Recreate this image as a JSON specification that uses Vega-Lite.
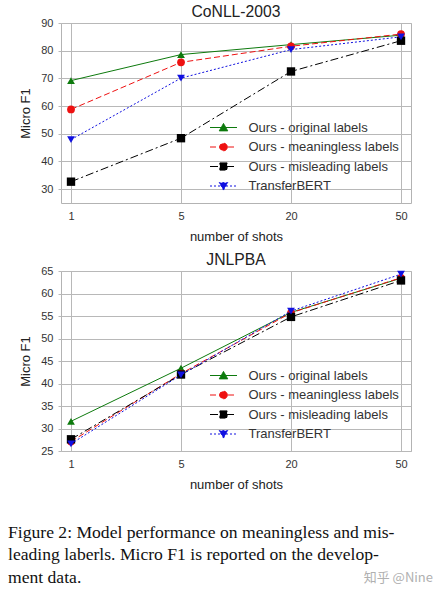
{
  "$schema": "https://vega.github.io/schema/vega-lite/v6.json",
  "padding": {"left": 8, "top": 3, "right": 0, "bottom": 0},
  "datasets": {
    "conll": [
      {"series": "Ours - original labels", "shots": "1", "f1": 69.2},
      {"series": "Ours - original labels", "shots": "5", "f1": 78.6},
      {"series": "Ours - original labels", "shots": "20", "f1": 82.2},
      {"series": "Ours - original labels", "shots": "50", "f1": 85.6},
      {"series": "Ours - meaningless labels", "shots": "1", "f1": 58.8},
      {"series": "Ours - meaningless labels", "shots": "5", "f1": 75.8},
      {"series": "Ours - meaningless labels", "shots": "20", "f1": 81.6},
      {"series": "Ours - meaningless labels", "shots": "50", "f1": 86.0},
      {"series": "Ours - misleading labels", "shots": "1", "f1": 32.7},
      {"series": "Ours - misleading labels", "shots": "5", "f1": 48.4},
      {"series": "Ours - misleading labels", "shots": "20", "f1": 72.5},
      {"series": "Ours - misleading labels", "shots": "50", "f1": 83.6},
      {"series": "TransferBERT", "shots": "1", "f1": 47.9},
      {"series": "TransferBERT", "shots": "5", "f1": 70.1},
      {"series": "TransferBERT", "shots": "20", "f1": 80.4},
      {"series": "TransferBERT", "shots": "50", "f1": 85.0}
    ],
    "jnlpba": [
      {"series": "Ours - original labels", "shots": "1", "f1": 31.6},
      {"series": "Ours - original labels", "shots": "5", "f1": 43.4},
      {"series": "Ours - original labels", "shots": "20", "f1": 55.8},
      {"series": "Ours - original labels", "shots": "50", "f1": 63.4},
      {"series": "Ours - meaningless labels", "shots": "1", "f1": 27.1},
      {"series": "Ours - meaningless labels", "shots": "5", "f1": 42.2},
      {"series": "Ours - meaningless labels", "shots": "20", "f1": 55.7},
      {"series": "Ours - meaningless labels", "shots": "50", "f1": 63.5},
      {"series": "Ours - misleading labels", "shots": "1", "f1": 27.6},
      {"series": "Ours - misleading labels", "shots": "5", "f1": 42.0},
      {"series": "Ours - misleading labels", "shots": "20", "f1": 54.8},
      {"series": "Ours - misleading labels", "shots": "50", "f1": 62.9},
      {"series": "TransferBERT", "shots": "1", "f1": 26.6},
      {"series": "TransferBERT", "shots": "5", "f1": 41.9},
      {"series": "TransferBERT", "shots": "20", "f1": 56.1},
      {"series": "TransferBERT", "shots": "50", "f1": 64.3}
    ],
    "caption": [
      {"line": 1, "kind": "text", "text": "Figure 2: Model performance on meaningless and mis-"},
      {"line": 2, "kind": "text", "text": "leading laberls.  Micro F1 is reported on the develop-"},
      {"line": 3, "kind": "text", "text": "ment data."},
      {"line": 3, "kind": "mark", "text": "知乎 @Nine"}
    ]
  },
  "resolve": {
    "scale": {"color": "independent", "fill": "independent", "stroke": "independent", "shape": "independent", "strokeDash": "independent"},
    "legend": {"color": "independent", "fill": "independent", "stroke": "independent", "shape": "independent", "strokeDash": "independent"}
  },
  "spacing": 7,
  "vconcat": [
    {
      "title": "CoNLL-2003",
      "width": 350,
      "height": 180,
      "data": {"name": "conll"},
      "encoding": {
        "x": {"field": "shots", "type": "ordinal", "sort": ["1", "5", "20", "50"], "title": "number of shots",
              "scale": {"type": "point", "padding": 0.0909}},
        "y": {"field": "f1", "type": "quantitative", "title": "Micro F1",
              "scale": {"domain": [25, 90], "nice": false, "zero": false},
              "axis": {"values": [30, 40, 50, 60, 70, 80, 90]}},
        "color": {"field": "series", "legend": null,
                  "scale": {"domain": ["TransferBERT", "Ours - misleading labels", "Ours - meaningless labels", "Ours - original labels"], "range": ["#1010e0", "#000000", "#ee1111", "#0d7a0d"]}}
      },
      "layer": [
        {"transform": [{"filter": "datum.series == 'Ours - original labels'"}],
         "mark": {"type": "line", "strokeWidth": 1, "point": {"shape": "triangle-up", "filled": true, "size": 60, "opacity": 1}}},
        {"transform": [{"filter": "datum.series == 'Ours - meaningless labels'"}],
         "mark": {"type": "line", "strokeWidth": 1, "strokeDash": [6, 3], "point": {"shape": "circle", "filled": true, "size": 60, "opacity": 1}}},
        {"transform": [{"filter": "datum.series == 'Ours - misleading labels'"}],
         "mark": {"type": "line", "strokeWidth": 1, "strokeDash": [8, 3, 2, 3], "point": {"shape": "square", "filled": true, "size": 70, "opacity": 1}}},
        {"transform": [{"filter": "datum.series == 'TransferBERT'"}],
         "mark": {"type": "line", "strokeWidth": 1, "strokeDash": [2, 2], "point": {"shape": "triangle-down", "filled": true, "size": 60, "opacity": 1}}},
        {"transform": [{"filter": "false"}],
         "mark": {"type": "point", "filled": true, "strokeWidth": 1, "opacity": 1},
         "encoding": {
           "color": null,
           "fill": {"field": "series", "scale": {"domain": ["Ours - original labels", "Ours - meaningless labels", "Ours - misleading labels", "TransferBERT"], "range": ["#0d7a0d", "#ee1111", "#000000", "#1010e0"]},
                    "legend": {"orient": "none", "legendX": 156, "legendY": 98, "title": null}},
           "stroke": {"field": "series", "scale": {"domain": ["Ours - original labels", "Ours - meaningless labels", "Ours - misleading labels", "TransferBERT"], "range": ["#0d7a0d", "#ee1111", "#000000", "#1010e0"]},
                    "legend": {"orient": "none", "legendX": 156, "legendY": 98, "title": null}},
           "shape": {"field": "series", "scale": {"domain": ["Ours - original labels", "Ours - meaningless labels", "Ours - misleading labels", "TransferBERT"],
                     "range": ["M-3,0H3M0,-0.9L0.95,0.75H-0.95Z", "M-3,0H3M0.85,0A0.85,0.85,0,1,1,-0.85,0A0.85,0.85,0,1,1,0.85,0Z", "M-3,0H3M-0.8,-0.8H0.8V0.8H-0.8Z", "M-3,0H3M0,0.9L0.95,-0.75H-0.95Z"]},
                     "legend": {"orient": "none", "legendX": 156, "legendY": 98, "title": null}},
           "strokeDash": {"field": "series", "scale": {"domain": ["Ours - original labels", "Ours - meaningless labels", "Ours - misleading labels", "TransferBERT"], "range": [[1, 0], [6, 3], [8, 3, 2, 3], [2, 2]]},
                          "legend": {"orient": "none", "legendX": 156, "legendY": 98, "title": null}}
         }}
      ]
    },
    {
      "title": "JNLPBA",
      "width": 350,
      "height": 180,
      "data": {"name": "jnlpba"},
      "encoding": {
        "x": {"field": "shots", "type": "ordinal", "sort": ["1", "5", "20", "50"], "title": "number of shots",
              "scale": {"type": "point", "padding": 0.0909}},
        "y": {"field": "f1", "type": "quantitative", "title": "Micro F1",
              "scale": {"domain": [25, 65], "nice": false, "zero": false},
              "axis": {"values": [25, 30, 35, 40, 45, 50, 55, 60, 65]}},
        "color": {"field": "series", "legend": null,
                  "scale": {"domain": ["TransferBERT", "Ours - misleading labels", "Ours - meaningless labels", "Ours - original labels"], "range": ["#1010e0", "#000000", "#ee1111", "#0d7a0d"]}}
      },
      "layer": [
        {"transform": [{"filter": "datum.series == 'Ours - original labels'"}],
         "mark": {"type": "line", "strokeWidth": 1, "point": {"shape": "triangle-up", "filled": true, "size": 60, "opacity": 1}}},
        {"transform": [{"filter": "datum.series == 'Ours - meaningless labels'"}],
         "mark": {"type": "line", "strokeWidth": 1, "strokeDash": [6, 3], "point": {"shape": "circle", "filled": true, "size": 60, "opacity": 1}}},
        {"transform": [{"filter": "datum.series == 'Ours - misleading labels'"}],
         "mark": {"type": "line", "strokeWidth": 1, "strokeDash": [8, 3, 2, 3], "point": {"shape": "square", "filled": true, "size": 70, "opacity": 1}}},
        {"transform": [{"filter": "datum.series == 'TransferBERT'"}],
         "mark": {"type": "line", "strokeWidth": 1, "strokeDash": [2, 2], "point": {"shape": "triangle-down", "filled": true, "size": 60, "opacity": 1}}},
        {"transform": [{"filter": "false"}],
         "mark": {"type": "point", "filled": true, "strokeWidth": 1, "opacity": 1},
         "encoding": {
           "color": null,
           "fill": {"field": "series", "scale": {"domain": ["Ours - original labels", "Ours - meaningless labels", "Ours - misleading labels", "TransferBERT"], "range": ["#0d7a0d", "#ee1111", "#000000", "#1010e0"]},
                    "legend": {"orient": "none", "legendX": 156, "legendY": 98, "title": null}},
           "stroke": {"field": "series", "scale": {"domain": ["Ours - original labels", "Ours - meaningless labels", "Ours - misleading labels", "TransferBERT"], "range": ["#0d7a0d", "#ee1111", "#000000", "#1010e0"]},
                    "legend": {"orient": "none", "legendX": 156, "legendY": 98, "title": null}},
           "shape": {"field": "series", "scale": {"domain": ["Ours - original labels", "Ours - meaningless labels", "Ours - misleading labels", "TransferBERT"],
                     "range": ["M-3,0H3M0,-0.9L0.95,0.75H-0.95Z", "M-3,0H3M0.85,0A0.85,0.85,0,1,1,-0.85,0A0.85,0.85,0,1,1,0.85,0Z", "M-3,0H3M-0.8,-0.8H0.8V0.8H-0.8Z", "M-3,0H3M0,0.9L0.95,-0.75H-0.95Z"]},
                     "legend": {"orient": "none", "legendX": 156, "legendY": 98, "title": null}},
           "strokeDash": {"field": "series", "scale": {"domain": ["Ours - original labels", "Ours - meaningless labels", "Ours - misleading labels", "TransferBERT"], "range": [[1, 0], [6, 3], [8, 3, 2, 3], [2, 2]]},
                          "legend": {"orient": "none", "legendX": 156, "legendY": 98, "title": null}}
         }}
      ]
    },
    {
      "width": 372,
      "height": 90,
      "data": {"name": "caption"},
      "view": {"stroke": null},
      "encoding": {
        "y": {"field": "line", "type": "ordinal", "axis": null, "scale": {"domain": [0, 1, 2, 3], "paddingInner": 0, "paddingOuter": 0}}
      },
      "layer": [
        {"transform": [{"filter": "datum.kind == 'text'"}],
         "mark": {"type": "text", "align": "left", "baseline": "middle", "font": "Liberation Serif", "fontSize": 17.6, "color": "#111111", "dx": -53},
         "encoding": {
           "x": {"datum": 0, "type": "quantitative", "scale": {"domain": [0, 1]}, "axis": null},
           "text": {"field": "text"}
         }},
        {"transform": [{"filter": "datum.kind == 'mark'"}],
         "mark": {"type": "text", "align": "right", "baseline": "middle", "font": "Noto Sans CJK SC", "fontSize": 13, "color": "#b0b0b0"},
         "encoding": {
           "x": {"datum": 1, "type": "quantitative", "scale": {"domain": [0, 1]}, "axis": null},
           "text": {"field": "text"}
         }}
      ]
    }
  ],
  "config": {
    "font": "Liberation Sans",
    "view": {"stroke": "#b3b3b3"},
    "title": {"fontSize": 15.7, "fontWeight": "normal", "color": "#222222", "offset": -4, "frame": "group"},
    "axis": {
      "domain": false, "ticks": false, "grid": true, "gridColor": "#b8b8b8",
      "labelColor": "#333333", "labelFontSize": 11, "labelFont": "Liberation Sans",
      "titleFont": "Liberation Sans", "titleFontSize": 13, "titleFontWeight": "normal", "titleColor": "#222222"
    },
    "axisX": {"labelAngle": 0, "labelPadding": 7, "titlePadding": 9},
    "axisY": {"ticks": true, "tickSize": 3, "tickColor": "#b8b8b8", "labelPadding": 5, "titlePadding": 8},
    "legend": {
      "padding": 0, "symbolSize": 81, "labelOffset": 18.5, "labelFontSize": 13, "labelFont": "Liberation Sans",
      "labelColor": "#333333", "rowPadding": 5.5, "symbolStrokeWidth": 1, "labelLimit": 300
    }
  }
}
